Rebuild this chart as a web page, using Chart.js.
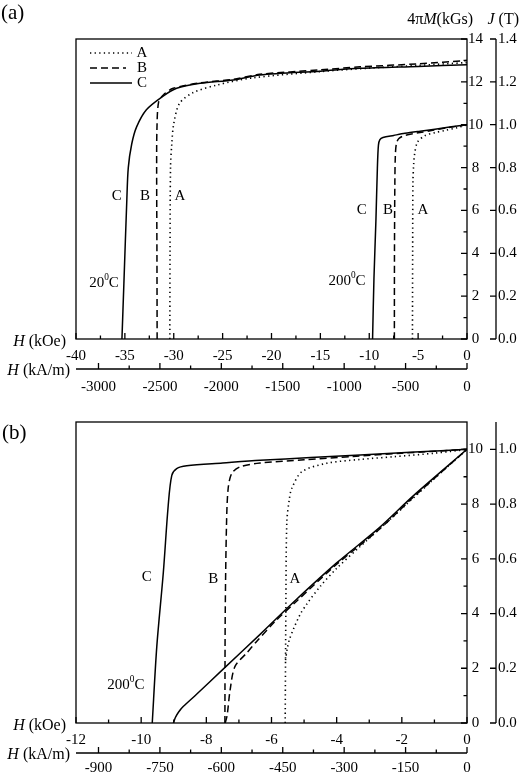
<!DOCTYPE html>
<html>
<head>
<meta charset="utf-8">
<title>Demagnetization curves</title>
<script src="https://cdn.jsdelivr.net/npm/chart.js@4.4.0/dist/chart.umd.min.js"></script>
<style>
  body { margin: 0; background: #fff; }
  #wrapA { position: absolute; left: 0; top: 0; width: 520px; height: 400px; }
  #wrapB { position: absolute; left: 0; top: 400px; width: 520px; height: 373px; }
</style>
</head>
<body>
<div id="wrapA"><canvas id="chartA"></canvas></div>
<div id="wrapB"><canvas id="chartB"></canvas></div>
<script>
// ---- data: H in kOe, 4piM in kGs ----
// panel (a), 20 C demagnetization curves
var h20A = [-30.4, -30.38, -30.33, -30.2, -30.0, -29.4, -28.0, -25.6, -22, -15, -10, -5, 0];
var m20A = [0, 4, 8, 9.1, 10.05, 11.0, 11.5, 11.85, 12.18, 12.48, 12.64, 12.77, 12.9];
var h20B = [-31.7, -31.72, -31.75, -31.72, -31.55, -31.07, -30.05, -27.3, -23.9, -21.2, -15, -10.95, -5, 0];
var m20B = [0, 4, 8, 9.8, 11.05, 11.39, 11.7, 11.95, 12.12, 12.35, 12.56, 12.7, 12.84, 13.0];
var h20C = [-35.3, -35.1, -34.8, -34.65, -34.3, -33.8, -32.8, -31.2, -29.7, -27.3, -23.9, -21.2, -15, -10.95, -5, 0];
var m20C = [0, 2.6, 6.5, 8.0, 9.1, 9.9, 10.7, 11.3, 11.7, 11.93, 12.09, 12.32, 12.5, 12.63, 12.72, 12.8];

// 200 C demagnetization curves (both panels)
var h200A = [-5.58, -5.56, -5.53, -5.45, -5.38, -5.07, -4.31, -3.3, -2.26, -1, 0];
var m200A = [0, 4, 7.34, 8.2, 8.57, 9.18, 9.49, 9.63, 9.73, 9.86, 10.0];
var h200B = [-7.43, -7.42, -7.38, -7.33, -7.22, -6.97, -6.35, -5, -3.5, -2, 0];
var m200B = [0, 4, 7.3, 8.57, 9.12, 9.36, 9.5, 9.62, 9.74, 9.86, 10.0];
var h200C = [-9.66, -9.52, -9.32, -9.17, -9.06, -8.91, -8.6, -7.5, -6.35, -4.8, -3.28, -1.6, 0];
var m200C = [0, 2.8, 5.5, 7.95, 9.05, 9.3, 9.4, 9.5, 9.6, 9.7, 9.79, 9.9, 10.0];

// panel (b) recoil lines
var hRecA = [-5.57, -5.52, -5.45, -5.33, -5.12, -4.92, -4.5, -4.0, -3.28, -2.26, -1.03, 0];
var mRecA = [2.3, 2.7, 3.05, 3.42, 3.97, 4.34, 5.0, 5.65, 6.45, 7.55, 8.9, 10.0];
var hRecB = [-7.42, -7.36, -7.27, -7.12, -6.76, -6.45, -5.9, -5.23, -4, -2.67, -1.65, 0];
var mRecB = [0, 0.29, 1.21, 2.07, 2.56, 2.99, 3.7, 4.45, 5.8, 7.1, 8.25, 10.0];
var hRecC = [-9.01, -8.95, -8.85, -8.71, -8.3, -7.5, -6.35, -5.23, -4, -2.67, -1.65, 0];
var mRecC = [0, 0.2, 0.4, 0.6, 1.05, 1.95, 3.24, 4.52, 5.85, 7.16, 8.3, 10.0];

// axis ranges and tick steps
var rangeA = { hMin: -40, mMax: 14 };
var rangeB = { hMin: -12, mMax: 11 };
var stepA = { kOe: 5, kAm: 500, kGs: 2, T: 0.2 };
var stepB = { kOe: 2, kAm: 150, kGs: 2, T: 0.2 };

var KAM = 1000 / (4 * Math.PI);   // kA/m per kOe
var FONT = '"Liberation Serif", "Times New Roman", serif';

Chart.defaults.font.family = FONT;
Chart.defaults.color = '#000';

function pts(hx, my) {
  var out = [];
  for (var i = 0; i < hx.length; i++) out.push({ x: hx[i], y: my[i] });
  return out;
}

var styles = {
  A: { borderDash: [1.3, 3.3], borderWidth: 1.6 },
  B: { borderDash: [7, 4], borderWidth: 1.5 },
  C: { borderDash: [], borderWidth: 1.5 }
};

function ds(name, hx, my) {
  return {
    label: name,
    data: pts(hx, my),
    showLine: true,
    pointRadius: 0,
    borderColor: '#000',
    borderWidth: styles[name].borderWidth,
    borderDash: styles[name].borderDash,
    tension: 0.3,
    fill: false
  };
}

// text made of pieces: [text, 'i' italic | 's' superscript | '']
function drawParts(ctx, parts, x, y, align, size) {
  var w = 0, fonts = [];
  parts.forEach(function (p) {
    var s = p[1] === 's' ? size * 0.62 : size;
    var f = (p[1] === 'i' ? 'italic ' : '') + s + 'px ' + FONT;
    ctx.font = f;
    var pw = ctx.measureText(p[0]).width;
    fonts.push({ f: f, w: pw });
    w += pw;
  });
  var cx = align === 'right' ? x - w : (align === 'center' ? x - w / 2 : x);
  ctx.textAlign = 'left';
  ctx.textBaseline = 'middle';
  parts.forEach(function (p, i) {
    ctx.font = fonts[i].f;
    ctx.fillText(p[0], cx, p[1] === 's' ? y - size * 0.38 : y);
    cx += fonts[i].w;
  });
}

function tickValues(scale) {
  var major = scale.ticks.map(function (t) { return t.value; });
  var minor = [];
  for (var i = 0; i < major.length - 1; i++) minor.push((major[i] + major[i + 1]) / 2);
  return { major: major, minor: minor };
}

var framePlugin = {
  id: 'frame',
  afterDraw: function (chart, args, opts) {
    var ctx = chart.ctx, ca = chart.chartArea, s = chart.scales;
    ctx.save();
    ctx.strokeStyle = '#000';
    ctx.fillStyle = '#000';
    ctx.lineWidth = 1.3;
    ctx.setLineDash([]);
    ctx.strokeRect(ca.left, ca.top, ca.right - ca.left, ca.bottom - ca.top);

    ctx.beginPath();
    // kOe ticks, inward from the bottom edge
    var tv = tickValues(s.x);
    tv.major.forEach(function (v) { var p = s.x.getPixelForValue(v); ctx.moveTo(p, ca.bottom); ctx.lineTo(p, ca.bottom - 6); });
    tv.minor.forEach(function (v) { var p = s.x.getPixelForValue(v); ctx.moveTo(p, ca.bottom); ctx.lineTo(p, ca.bottom - 3.5); });
    // kGs ticks, inward from the right edge
    tv = tickValues(s.y);
    tv.major.forEach(function (v) { var p = s.y.getPixelForValue(v); ctx.moveTo(ca.right, p); ctx.lineTo(ca.right - 6, p); });
    tv.minor.forEach(function (v) { var p = s.y.getPixelForValue(v); ctx.moveTo(ca.right, p); ctx.lineTo(ca.right - 3.5, p); });
    // kA/m axis line with upward ticks
    var ay = s.x2.top;
    ctx.moveTo(ca.left, ay); ctx.lineTo(ca.right, ay);
    tv = tickValues(s.x2);
    tv.major.forEach(function (v) { var p = s.x2.getPixelForValue(v); ctx.moveTo(p, ay); ctx.lineTo(p, ay - 6); });
    tv.minor.forEach(function (v) { var p = s.x2.getPixelForValue(v); ctx.moveTo(p, ay); ctx.lineTo(p, ay - 3.5); });
    // J axis line with ticks to the left
    var ax = s.y2.left;
    ctx.moveTo(ax, ca.top); ctx.lineTo(ax, ca.bottom);
    tickValues(s.y2).major.forEach(function (v) { var p = s.y2.getPixelForValue(v); ctx.moveTo(ax, p); ctx.lineTo(ax - 6, p); });
    ctx.stroke();

    // axis titles
    drawParts(ctx, [['H', 'i'], [' (kOe)', '']], ca.left - 10, ca.bottom + 3, 'right', 16);
    drawParts(ctx, [['H', 'i'], [' (kA/m)', '']], ca.left - 6, ay + 2, 'right', 16);
    drawParts(ctx, [[opts.panel, '']], opts.panelX, opts.panelY, 'left', 21);
    if (opts.topTitle) {
      drawParts(ctx, [['4\u03c0', ''], ['M', 'i'], ['(kGs)', '']], 473, 20, 'right', 16);
      drawParts(ctx, [['J', 'i'], [' (T)', '']], 519, 20, 'right', 16);
    }

    // curve labels
    opts.notes.forEach(function (n) {
      drawParts(ctx, n.t, s.x.getPixelForValue(n.x), s.y.getPixelForValue(n.y), 'center', 15);
    });

    // legend
    if (opts.legend) {
      ['A', 'B', 'C'].forEach(function (name, i) {
        var y = ca.top + 14 + i * 15;
        ctx.beginPath();
        ctx.lineWidth = styles[name].borderWidth;
        ctx.setLineDash(styles[name].borderDash);
        ctx.moveTo(ca.left + 14, y); ctx.lineTo(ca.left + (name === 'B' ? 50 : 56), y);
        ctx.stroke();
        ctx.setLineDash([]);
        drawParts(ctx, [[name, '']], ca.left + 66, y, 'center', 15);
      });
    }
    ctx.restore();
  }
};

// multiples of the step inside the scale range
function stepTicks(step) {
  return function (sc) {
    var t = [];
    for (var v = Math.ceil(sc.min / step - 1e-9) * step; v <= sc.max + 1e-9; v += step) t.push({ value: Math.round(v) });
    sc.ticks = t;
  };
}

function plain(v) { return String(Math.round(v * 1000) / 1000); }

function makeScales(range, step, pad) {
  var tickFont = { family: FONT, size: 15 };
  var none = { display: false, drawTicks: false };
  return {
    x: {
      type: 'linear', position: 'bottom', weight: 0, min: range.hMin, max: 0,
      grid: none, border: { display: false },
      ticks: { stepSize: step.kOe, font: tickFont, padding: pad.kOe, autoSkip: false, maxRotation: 0,
        includeBounds: false, callback: plain },
      afterFit: function (sc) { sc.height = 30; }
    },
    x2: {
      type: 'linear', position: 'bottom', weight: 1, min: range.hMin * KAM, max: 0,
      grid: none, border: { display: false },
      ticks: { stepSize: step.kAm, font: tickFont, padding: pad.kAm, autoSkip: false, maxRotation: 0,
        includeBounds: false, callback: plain },
      afterBuildTicks: stepTicks(step.kAm),
      afterFit: function (sc) { sc.height = pad.kAmH; }
    },
    y: {
      type: 'linear', position: 'right', weight: 0, min: 0, max: range.mMax,
      grid: none, border: { display: false },
      ticks: { stepSize: step.kGs, font: tickFont, padding: 1, crossAlign: 'center', autoSkip: false,
        includeBounds: false, callback: plain },
      afterFit: function (sc) { sc.width = 29; }
    },
    y2: {
      type: 'linear', position: 'right', weight: 1, min: 0, max: range.mMax / 10,
      grid: none, border: { display: false },
      ticks: { stepSize: step.T, font: tickFont, padding: 2, autoSkip: false, includeBounds: false,
        callback: function (v) { return v.toFixed(1); } },
      afterFit: function (sc) { sc.width = 24; }
    }
  };
}

var deg = function (num) { return [[num, ''], ['0', 's'], ['C', '']]; };

new Chart(document.getElementById('chartA'), {
  type: 'scatter',
  data: {
    datasets: [
      ds('A', h20A, m20A), ds('B', h20B, m20B), ds('C', h20C, m20C),
      ds('A', h200A, m200A), ds('B', h200B, m200B), ds('C', h200C, m200C)
    ]
  },
  options: {
    responsive: true,
    maintainAspectRatio: false,
    animation: false,
    layout: { padding: { left: 76, top: 39, right: 0, bottom: 0 } },
    scales: makeScales(rangeA, stepA, { kOe: 8, kAm: 9, kAmH: 31 }),
    plugins: {
      legend: { display: false },
      tooltip: { enabled: false },
      frame: {
        panel: '(a)', panelX: 1, panelY: 13, topTitle: true, legend: true,
        notes: [
          { t: [['C', '']], x: -35.84, y: 6.67 },
          { t: [['B', '']], x: -32.94, y: 6.67 },
          { t: [['A', '']], x: -29.36, y: 6.67 },
          { t: deg('20'), x: -37.14, y: 2.61 },
          { t: deg('200'), x: -12.28, y: 2.71 },
          { t: [['C', '']], x: -10.77, y: 6.02 },
          { t: [['B', '']], x: -8.08, y: 6.02 },
          { t: [['A', '']], x: -4.5, y: 6.02 }
        ]
      }
    }
  },
  plugins: [framePlugin]
});

new Chart(document.getElementById('chartB'), {
  type: 'scatter',
  data: {
    datasets: [
      ds('A', h200A, m200A), ds('B', h200B, m200B), ds('C', h200C, m200C),
      ds('A', hRecA, mRecA), ds('B', hRecB, mRecB), ds('C', hRecC, mRecC)
    ]
  },
  options: {
    responsive: true,
    maintainAspectRatio: false,
    animation: false,
    layout: { padding: { left: 76, top: 22, right: 0, bottom: 0 } },
    scales: makeScales(rangeB, stepB, { kOe: 8, kAm: 6, kAmH: 20 }),
    plugins: {
      legend: { display: false },
      tooltip: { enabled: false },
      frame: {
        panel: '(b)', panelX: 2, panelY: 33, topTitle: false, legend: false,
        notes: [
          { t: [['C', '']], x: -9.83, y: 5.35 },
          { t: [['B', '']], x: -7.79, y: 5.25 },
          { t: [['A', '']], x: -5.28, y: 5.25 },
          { t: deg('200'), x: -10.47, y: 1.39 }
        ]
      }
    }
  },
  plugins: [framePlugin]
});
</script>
</body>
</html>
